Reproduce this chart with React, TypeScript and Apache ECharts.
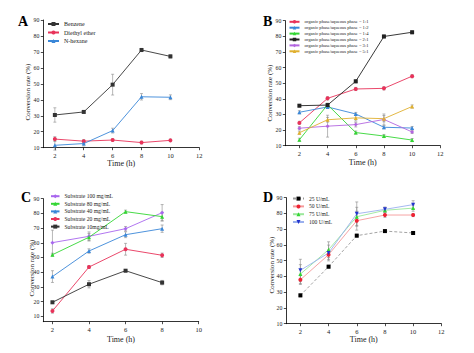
import React, { useEffect, useRef } from "react";
import * as echarts from "echarts";

// ---------- Data ----------
const timeAB = [2, 4, 6, 8, 10];
const timeC = [2, 4, 6, 8];
const yTicks = [10, 20, 30, 40, 50, 60, 70, 80, 90];
const xTicks12 = [2, 4, 6, 8, 10, 12];
const xTicks10 = [2, 4, 6, 8, 10];

// Panel A
const benzene = [30.5, 32.4, 49.5, 71.2, 67.2];
const benzeneErr = [4.5, 0.6, 6.5, 1, 1];
const diethylEther = [15.4, 14.1, 14.8, 13.2, 14.6];
const diethylEtherErr = [1.5, 1, 0.8, 0.8, 0.8];
const nHexane = [11.5, 12.6, 20.7, 41.9, 41.6];
const nHexaneErr = [3, 1.5, 1.5, 2, 1.5];

// Panel B
const ratio11 = [24.6, 40.3, 46.3, 46.7, 54.5];
const ratio11Err = [1, 1, 1, 1, 1];
const ratio12 = [31.4, 34.8, 30.3, 21.8, 21.3];
const ratio12Err = [1, 1, 1, 1, 1];
const ratio14 = [13.8, 36.2, 18.4, 16.2, 13.6];
const ratio14Err = [1, 1, 1, 1, 1];
const ratio21 = [35.6, 36.0, 51.2, 79.9, 82.6];
const ratio21Err = [0.8, 0.8, 1, 1, 1];
const ratio31 = [21.2, 22.5, 23.5, 26.8, 18.8];
const ratio31Err = [1, 7, 1.5, 3.5, 1];
const ratio51 = [18.3, 26.6, 27.8, 27.3, 35.1];
const ratio51Err = [1, 1.5, 2, 2, 1];

// Panel C
const sub100 = [60.1, 64.4, 69.6, 80.5];
const sub100Err = [8.5, 3, 1.5, 5.5];
const sub80 = [51.9, 63.8, 81.2, 77.8];
const sub80Err = [1, 2.5, 1, 3];
const sub40 = [37, 54.4, 65.5, 69.6];
const sub40Err = [4, 1.5, 2, 2.5];
const sub20 = [13.6, 43.5, 55.6, 51.5];
const sub20Err = [1.5, 1, 4, 1.5];
const sub10 = [19.5, 31.8, 41, 32.9];
const sub10Err = [0.8, 2.5, 0.8, 1.5];

// Panel D
const u25 = [28, 46.2, 65.9, 68.8, 67.6];
const u25Err = [1, 1, 1, 0.8, 1];
const u50 = [37.9, 53.8, 75.4, 79, 79];
const u50Err = [3, 3, 6, 1.5, 1];
const u75 = [41.5, 57, 77.9, 82, 83.4];
const u75Err = [6, 5, 6, 1.5, 2];
const u100 = [43.9, 54.9, 79.8, 82.6, 85.6];
const u100Err = [7, 5, 7.5, 1.5, 2.5];

const FONT = "'Liberation Serif', 'Times New Roman', serif";

type S = {
  name: string;
  data: number[];
  err: number[];
  color: string;
  lineColor?: string;
  symbol: string;
  dashed?: boolean;
};

const panelA: S[] = [
  { name: "Benzene", data: benzene, err: benzeneErr, color: "#333333", symbol: "rect" },
  { name: "Diethyl ether", data: diethylEther, err: diethylEtherErr, color: "#e8335a", symbol: "circle" },
  { name: "N-hexane", data: nHexane, err: nHexaneErr, color: "#3a87d8", symbol: "triangle" },
];
const panelB: S[] = [
  { name: "organic phase/aqueous phase = 1:1", data: ratio11, err: ratio11Err, color: "#e8335a", symbol: "circle" },
  { name: "organic phase/aqueous phase = 1:2", data: ratio12, err: ratio12Err, color: "#3a87d8", symbol: "triangle" },
  { name: "organic phase/aqueous phase = 1:4", data: ratio14, err: ratio14Err, color: "#33d633", symbol: "triangle" },
  { name: "organic phase/aqueous phase = 2:1", data: ratio21, err: ratio21Err, color: "#222222", symbol: "rect" },
  { name: "organic phase/aqueous phase = 3:1", data: ratio31, err: ratio31Err, color: "#b366e0", symbol: "diamond" },
  { name: "organic phase/aqueous phase = 5:1", data: ratio51, err: ratio51Err, color: "#e0b030", symbol: "triangle" },
];
const panelC: S[] = [
  { name: "Substrate 100 mg/mL", data: sub100, err: sub100Err, color: "#a866ee", symbol: "diamond" },
  { name: "Substrate 80 mg/mL", data: sub80, err: sub80Err, color: "#33d633", symbol: "triangle" },
  { name: "Substrate 40 mg/mL", data: sub40, err: sub40Err, color: "#3a87d8", symbol: "triangle" },
  { name: "Substrate 20 mg/mL", data: sub20, err: sub20Err, color: "#e8335a", symbol: "circle" },
  { name: "Substrate 10mg/mL", data: sub10, err: sub10Err, color: "#333333", symbol: "rect" },
];
const panelD: S[] = [
  { name: "25 U/mL", data: u25, err: u25Err, color: "#000000", lineColor: "#999999", symbol: "rect", dashed: true },
  { name: "50 U/mL", data: u50, err: u50Err, color: "#ee2233", lineColor: "#f49a9a", symbol: "circle" },
  { name: "75 U/mL", data: u75, err: u75Err, color: "#33d633", lineColor: "#9be89b", symbol: "triangle" },
  { name: "100 U/mL", data: u100, err: u100Err, color: "#2233cc", lineColor: "#9ab0ee", symbol: "path://M0,0 L10,0 L5,9 Z" },
];

function buildSeries(list: S[], xs: number[], idx: number) {
  const out: any[] = [];
  list.forEach((s) => {
    out.push({
      type: "custom",
      name: s.name + " (error)",
      xAxisIndex: idx,
      yAxisIndex: idx,
      silent: true,
      z: 1,
      encode: { x: 0, y: [1, 2] },
      data: xs.map((x, i) => [x, s.data[i] - s.err[i], s.data[i] + s.err[i]]),
      renderItem: (params: any, api: any) => {
        const lo = api.coord([api.value(0), api.value(1)]);
        const hi = api.coord([api.value(0), api.value(2)]);
        const st = { stroke: "#888888", lineWidth: 0.6 };
        return {
          type: "group",
          children: [
            { type: "line", shape: { x1: lo[0], y1: lo[1], x2: hi[0], y2: hi[1] }, style: st },
            { type: "line", shape: { x1: lo[0] - 1.5, y1: lo[1], x2: lo[0] + 1.5, y2: lo[1] }, style: st },
            { type: "line", shape: { x1: hi[0] - 1.5, y1: hi[1], x2: hi[0] + 1.5, y2: hi[1] }, style: st },
          ],
        };
      },
    });
    out.push({
      type: "line",
      name: s.name,
      xAxisIndex: idx,
      yAxisIndex: idx,
      z: 3,
      data: xs.map((x, i) => [x, s.data[i]]),
      symbol: s.symbol,
      symbolSize: 4,
      showSymbol: true,
      itemStyle: { color: s.color },
      lineStyle: {
        color: s.lineColor || s.color,
        width: 0.9,
        type: s.dashed ? [3, 2] : "solid",
      },
    });
  });
  return out;
}

const grids = [
  { left: 43.3, top: 20, width: 156, height: 127.7 },
  { left: 285.3, top: 20.7, width: 155, height: 125 },
  { left: 43.3, top: 198.7, width: 155.4, height: 123 },
  { left: 286.3, top: 197.7, width: 155, height: 126 },
];
const xRanges = [
  { min: 1.2, max: 12, ticks: xTicks12, gap: 12 },
  { min: 1, max: 12, ticks: xTicks12, gap: 13 },
  { min: 1.5, max: 10, ticks: xTicks10, gap: 14 },
  { min: 1, max: 12, ticks: xTicks12, gap: 11.5 },
];
const yMins = [10, 10, 6.3, 10];

const legends = [
  { list: panelA, left: 47, top: 21, itemWidth: 11, itemHeight: 5, gap: 2.5, fs: 6 },
  { list: panelB, left: 288.5, top: 19.3, itemWidth: 10, itemHeight: 4.4, gap: 0.9, fs: 4.6 },
  { list: panelC, left: 50, top: 193.2, itemWidth: 8.5, itemHeight: 5, gap: 1.6, fs: 5.6 },
  { list: panelD, left: 292, top: 195.6, itemWidth: 11, itemHeight: 5, gap: 1.8, fs: 5.6 },
];

export default function App() {
  const ref = useRef<HTMLDivElement>(null);
  useEffect(() => {
    document.body.style.margin = "0";
    if (!ref.current) return;
    const chart = echarts.init(ref.current, null, { renderer: "svg" });
    const axisLine = { show: true, onZero: false, lineStyle: { color: "#000", width: 0.8 } };
    const option: any = {
      animation: false,
      backgroundColor: "#ffffff",
      textStyle: { fontFamily: FONT },
      grid: grids.map((g) => ({ ...g, containLabel: false, outerBoundsMode: "none" })),
      xAxis: xRanges.map((r, i) => ({
        type: "value",
        gridIndex: i,
        min: r.min,
        max: r.max,
        name: "Time (h)",
        nameLocation: "middle",
        nameGap: r.gap,
        nameTextStyle: { fontFamily: FONT, fontSize: 8, color: "#222" },
        axisLine,
        axisTick: { show: true, length: 2.5, customValues: r.ticks, lineStyle: { color: "#000", width: 0.7 } },
        axisLabel: { customValues: r.ticks, fontFamily: FONT, fontSize: 6.5, color: "#222", margin: 4 },
        splitLine: { show: false },
      })),
      yAxis: yMins.map((m, i) => ({
        type: "value",
        gridIndex: i,
        min: m,
        max: 90,
        axisLine,
        axisTick: { show: true, length: 2.5, customValues: yTicks, lineStyle: { color: "#000", width: 0.7 } },
        axisLabel: { customValues: yTicks, fontFamily: FONT, fontSize: 5.8, color: "#222", margin: 4 },
        splitLine: { show: false },
      })),
      legend: legends.map((l) => ({
        data: l.list.map((s) => s.name),
        orient: "vertical",
        left: l.left,
        top: l.top,
        padding: 0,
        itemWidth: l.itemWidth,
        itemHeight: l.itemHeight,
        itemGap: l.gap,
        selectedMode: false,
        textStyle: { fontFamily: FONT, fontSize: l.fs, color: "#222", lineHeight: l.itemHeight },
      })),
      graphic: [
        { type: "text", x: 18, y: 14, style: { text: "A", font: `bold 14px ${FONT}`, fill: "#000" } },
        { type: "text", x: 263, y: 14.5, style: { text: "B", font: `bold 14px ${FONT}`, fill: "#000" } },
        { type: "text", x: 21, y: 190, style: { text: "C", font: `bold 14px ${FONT}`, fill: "#000" } },
        { type: "text", x: 263, y: 190.5, style: { text: "D", font: `bold 14px ${FONT}`, fill: "#000" } },
        ...[
          [28, 92],
          [270, 93],
          [32, 268],
          [272, 265],
        ].map(([x, y]) => ({
          type: "text",
          x,
          y,
          rotation: Math.PI / 2,
          style: {
            text: "Conversion rate (%)",
            font: `7px ${FONT}`,
            fill: "#222",
            textAlign: "center",
            textVerticalAlign: "middle",
          },
        })),
      ],
      series: [
        ...buildSeries(panelA, timeAB, 0),
        ...buildSeries(panelB, timeAB, 1),
        ...buildSeries(panelC, timeC, 2),
        ...buildSeries(panelD, timeAB, 3),
      ],
    };
    chart.setOption(option);
    return () => chart.dispose();
  }, []);
  return <div ref={ref} style={{ width: 474, height: 353 }} />;
}
